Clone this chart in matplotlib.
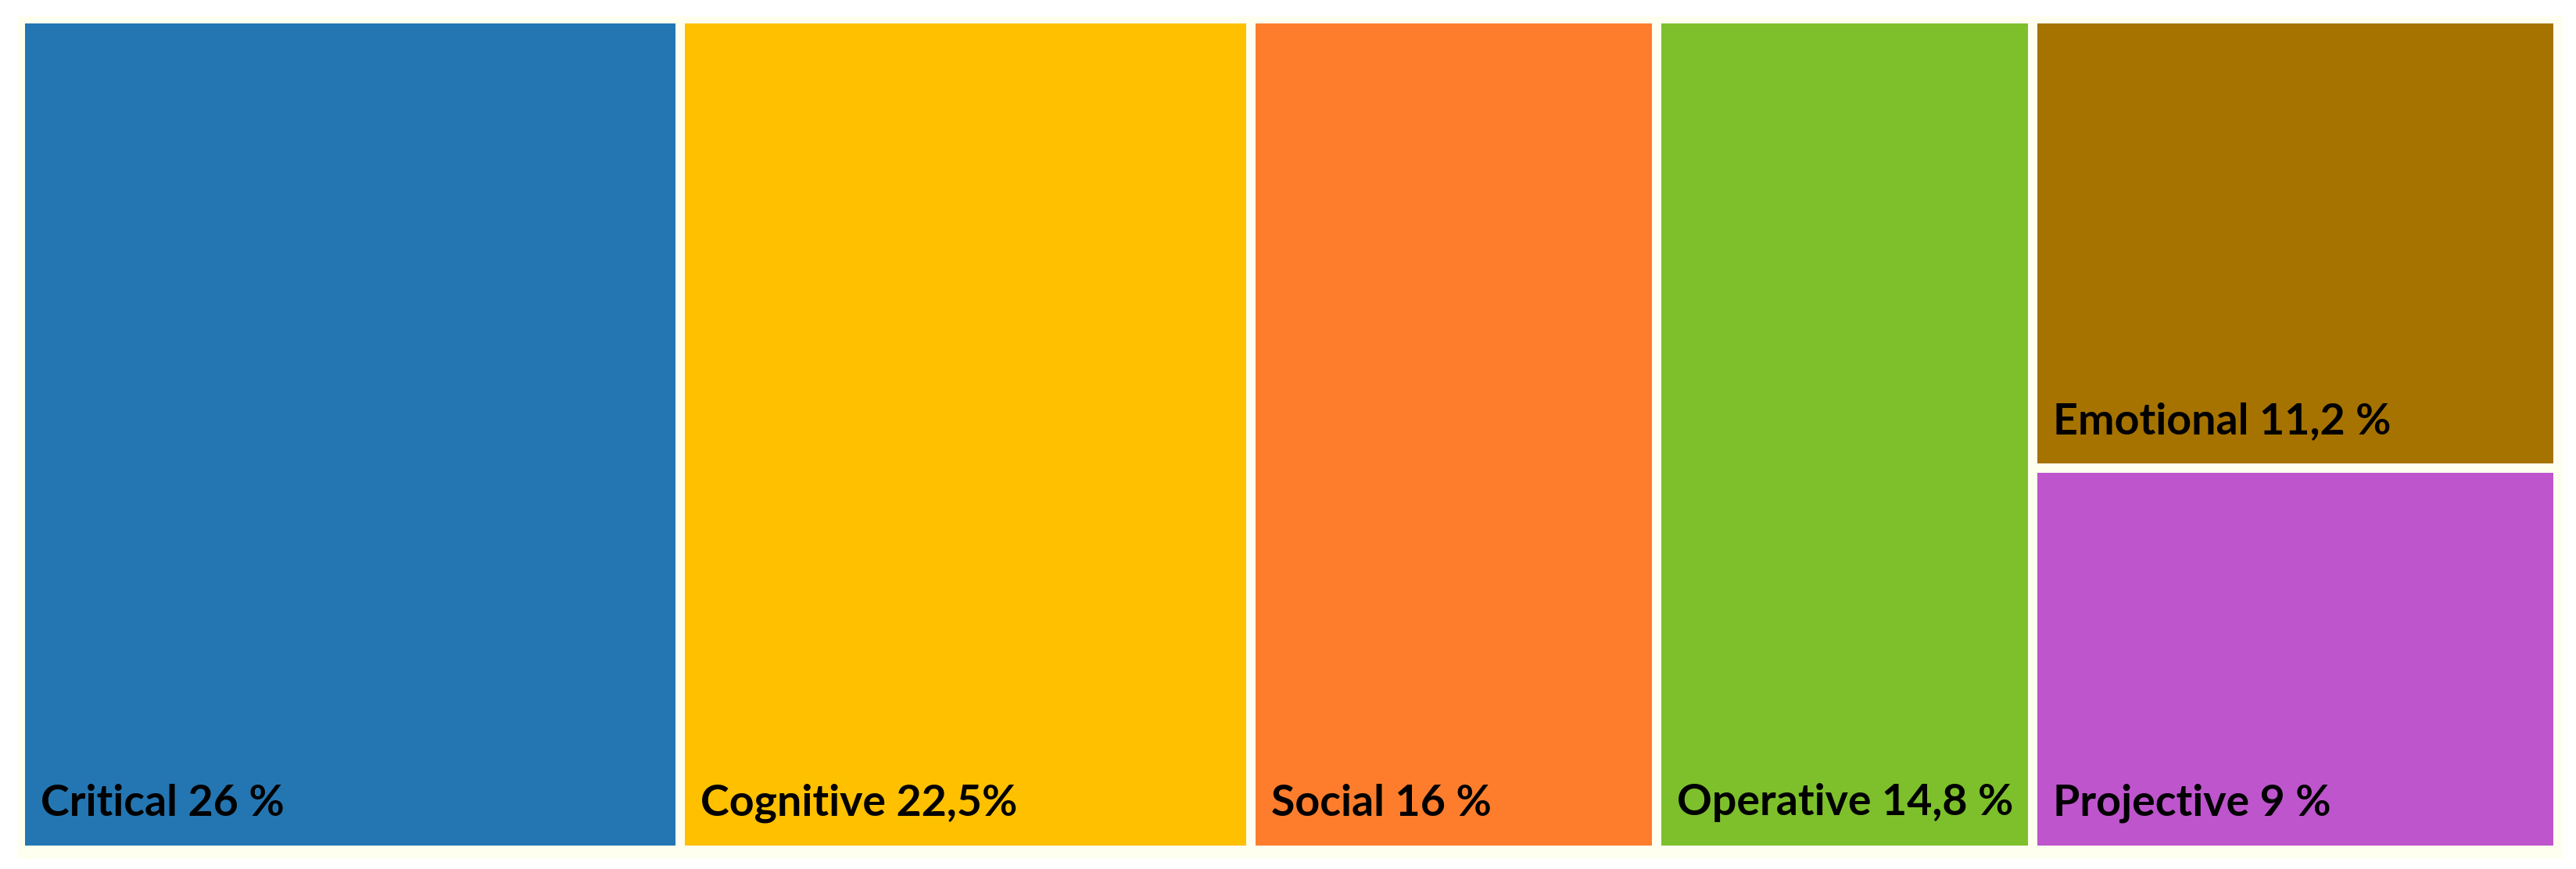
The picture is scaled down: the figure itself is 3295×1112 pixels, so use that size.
import matplotlib
matplotlib.use("Agg")
import matplotlib.pyplot as plt
from matplotlib.patches import Rectangle

# ---- data ----
groups = [["Critical"], ["Cognitive"], ["Social"], ["Operative"], ["Emotional", "Projective"]]
values = {"Critical": 26.0, "Cognitive": 22.5, "Social": 16.0, "Operative": 14.8,
          "Emotional": 11.2, "Projective": 9.5}
labels = {"Critical": "Critical 26 %", "Cognitive": "Cognitive 22,5%", "Social": "Social 16 %",
          "Operative": "Operative 14,8 %", "Emotional": "Emotional 11,2 %",
          "Projective": "Projective 9 %"}
colors = {"Critical": "#2476B2", "Cognitive": "#FFC000", "Social": "#FD7D2C",
          "Operative": "#7DC02C", "Emotional": "#A67300", "Projective": "#BE55CD"}

W, H, DPI = 3295, 1112, 100
CREAM = "#FFFFF0"

fig = plt.figure(figsize=(W / DPI, H / DPI), dpi=DPI, facecolor="white")

# cream panel behind the treemap
fig.patches.append(Rectangle((23 / W, 13 / H), 3255 / W, 1078 / H,
                             transform=fig.transFigure, facecolor=CREAM,
                             edgecolor="none", zorder=-5))

gap = 12  # pixels between tiles
ax_l, ax_r = 25.5, 3272.0
ax_t, ax_b = 23.5, 1087.5
ax = fig.add_axes([ax_l / W, (H - ax_b) / H, (ax_r - ax_l) / W, (ax_b - ax_t) / H])
ax.set_zorder(2)
total = sum(values.values())
ax.set_xlim(0, total)
ax.set_ylim(0, 1)
ax.axis("off")

lw_pt = gap * 72 / DPI
x = 0.0
for grp in groups:
    gsum = sum(values[n] for n in grp)
    y = 1.0
    for name in grp:
        h = values[name] / gsum
        y -= h
        ax.add_patch(Rectangle((x, y), gsum, h, facecolor=colors[name],
                               edgecolor=CREAM, linewidth=lw_pt, joinstyle="miter"))
        ax.annotate(labels[name], xy=(x, y), xytext=(26, 44),
                    textcoords="offset pixels", ha="left", va="baseline",
                    fontsize=40, fontweight="bold", color="black",
                    family=["Lato", "DejaVu Sans"])
    x += gsum

fig.savefig("out.png", dpi=DPI, facecolor="white")
